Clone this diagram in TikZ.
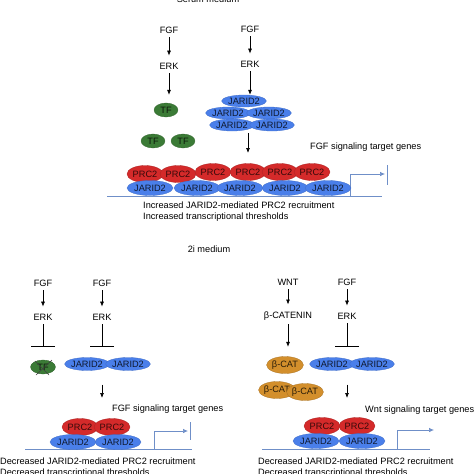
\documentclass[tikz,border=0pt]{standalone}
\usepackage{fontspec}
\setmainfont{Liberation Sans}
\usepackage{tikz}
\usetikzlibrary{arrows.meta, positioning, shapes.geometric}
\usepackage{xcolor}
\definecolor{jaridblue}{HTML}{4A7FEA}
\definecolor{prcred}{HTML}{D42A2A}
\definecolor{tfgreen}{HTML}{3B7B36}
\definecolor{catorange}{HTML}{D38F2C}
\definecolor{dnablue}{HTML}{6F8FC8}

\begin{document}
\begin{tikzpicture}[
  x=1pt, y=-1pt,
  font=\fontsize{9.2}{11}\selectfont,
  blob/.style={ellipse, inner sep=0pt, line width=0.3pt},
  jarid/.style={blob, fill=jaridblue, draw=jaridblue!85!black,
    text=jaridblue!20!black, minimum width=44pt, minimum height=13pt},
  prc/.style={blob, fill=prcred, draw=prcred!80!black,
    text=prcred!25!black, minimum width=36pt, minimum height=17pt},
  tf/.style={blob, fill=tfgreen, draw=tfgreen!80!black,
    text=tfgreen!20!black, minimum width=24pt, minimum height=14pt},
  bcat/.style={blob, fill=catorange, draw=catorange!80!black,
    text=catorange!20!black, minimum width=29pt, minimum height=17pt},
  lbl/.style={inner sep=0pt},
  arr/.style={-{Latex[length=5pt, width=4pt]}, line width=0.7pt,
    shorten <=4pt},
  inh/.style={-{Bar[width=24pt, line width=0.9pt]}, line width=0.7pt,
    shorten <=4pt},
  dna/.style={dnablue, line width=0.8pt},
  prom/.style={dnablue, line width=0.7pt, -{Latex[length=5pt, width=4.5pt]}}
]
  \useasboundingbox (0,0) rectangle (474,474);

  % Serum medium
  \node[lbl] (serum) at (208,-1) {Serum medium};

  \node[lbl] (fgfA) at (169,30) {FGF};
  \node[lbl] (erkA) at (169,66) {ERK};
  \node[tf] (tfA) at (166,110) {TF};
  \node[tf] (tfB) at (153,141) {TF};
  \node[tf] (tfC) at (183,141) {TF};

  \node[lbl] (fgfB) at (250,29) {FGF};
  \node[lbl] (erkB) at (250,64) {ERK};

  % JARID2 stack
  \node[jarid, minimum width=42pt, minimum height=12pt] (jA) at (244,101) {JARID2};
  \foreach \n/\x/\y in {B/228/113, C/269/113, D/232/125, E/272/125} {
    \node[jarid, minimum width=42pt, minimum height=12pt] (j\n) at (\x,\y) {JARID2};
  }

  \draw[arr, shorten >=7pt] (fgfA) -- (erkA);
  \draw[arr, shorten >=8pt] (erkA) -- (erkA |- tfA.north);
  \draw[arr, shorten >=7pt] (fgfB) -- (erkB);
  \draw[arr] (erkB) -- (erkB |- jA.north);

  \coordinate (tgtA) at (248,153);
  \draw[arr, shorten <=2pt] (tgtA |- jE.south) -- (tgtA);

  \node[lbl, anchor=west] (genesA) at (310,147) {FGF signaling target genes};

  % chromatin
  \draw[dna] (107,196) -- (382,196);
  \draw[prom] (350,196) |- (385,174);
  \draw[dna] (387,165) -- (387,185);
  \foreach \i/\x/\y in {1/145/174, 2/178/174, 3/213/172, 4/248/172, 5/280/172, 6/312/172} {
    \node[prc] (prcA\i) at (\x,\y) {PRC2};
  }
  \foreach \i/\x in {1/150, 2/197, 3/240, 4/285, 5/328} {
    \node[jarid, minimum width=46pt, minimum height=15pt] (jrA\i) at (\x,188) {JARID2};
  }

  \node[lbl, anchor=west] (incA) at (143,205) {Increased JARID2-mediated PRC2 recruitment};
  \node[lbl, anchor=west] (incB) at (143,217) {Increased transcriptional thresholds};

  % 2i medium
  \node[lbl] (twoi) at (209,249) {2i medium};

  % left: FGF/ERK only
  \node[lbl] (fgfC) at (43,283) {FGF};
  \node[lbl] (erkC) at (43,317) {ERK};
  \node[tf, minimum width=25pt] (tfX) at (43,367) {TF};
  \draw[black!75, line width=0.6pt] ([shift={(-7,8)}]tfX.center) -- ([shift={(9,-7)}]tfX.center);
  \draw[black!75, line width=0.6pt] ([shift={(-8,-6)}]tfX.center) -- ([shift={(6,8)}]tfX.center);

  \node[lbl] (fgfD) at (102,283) {FGF};
  \node[lbl] (erkD) at (102,317) {ERK};
  \node[jarid, minimum width=42pt] (jF) at (87,364) {JARID2};
  \node[jarid, minimum width=42pt] (jG) at (128,364) {JARID2};

  \draw[arr, shorten >=7pt] (fgfC) -- (erkC);
  \draw[inh, shorten >=13pt] (erkC) -- (erkC |- tfX.north);
  \draw[arr, shorten >=7pt] (fgfD) -- (erkD);
  \draw[inh, shorten >=10.5pt] (erkD) -- (erkD |- jF.north);

  \coordinate (tgtC) at (102,398);
  \draw[arr, shorten <=14pt] (tgtC |- jF.south) -- (tgtC);

  \node[lbl, anchor=west] (genesC) at (112,409) {FGF signaling target genes};

  \draw[dna] (25,449) -- (192,449);
  \draw[prom] (154,449) |- (188,431);
  \draw[dna] (190,422) -- (190,440);
  \foreach \i/\x in {1/80, 2/112} {
    \node[prc] (prcC\i) at (\x,427) {PRC2};
  }
  \foreach \i/\x in {1/73, 2/118} {
    \node[jarid, minimum width=46pt, minimum height=15pt] (jrC\i) at (\x,442) {JARID2};
  }

  \node[lbl, anchor=west] (decA) at (0,461) {Decreased JARID2-mediated PRC2 recruitment};
  \node[lbl, anchor=west] (decB) at (0,473) {Decreased transcriptional thresholds};

  % right: WNT and FGF/ERK
  \node[lbl] (wnt) at (288,282) {WNT};
  \node[lbl] (bcatenin) at (288,316) {β-CATENIN};
  \node[bcat] (bcA) at (285,365) {β-CAT};
  \node[bcat] (bcB) at (277,390) {β-CAT};
  \node[bcat] (bcC) at (305,392) {β-CAT};

  \node[lbl] (fgfE) at (347,282) {FGF};
  \node[lbl] (erkE) at (347,316) {ERK};
  \node[jarid, minimum width=43pt] (jH) at (332,364) {JARID2};
  \node[jarid, minimum width=41pt] (jI) at (372,364) {JARID2};

  \draw[arr, shorten >=7pt] (wnt) -- (bcatenin);
  \draw[arr, shorten >=9.5pt] (bcatenin) -- (bcatenin |- bcA.north);
  \draw[arr, shorten >=7pt] (fgfE) -- (erkE);
  \draw[inh, shorten >=10.5pt] (erkE) -- (erkE |- jH.north);

  \coordinate (tgtE) at (347,398);
  \draw[arr, shorten <=14pt] (tgtE |- jH.south) -- (tgtE);

  \node[lbl, anchor=west] (genesE) at (365,410) {Wnt signaling target genes};

  \draw[dna] (262,449) -- (430,449);
  \draw[prom] (397,449) |- (434,430);
  \foreach \i/\x in {1/322, 2/357} {
    \node[prc] (prcE\i) at (\x,426) {PRC2};
  }
  \foreach \i/\x in {1/316, 2/362} {
    \node[jarid, minimum width=46pt, minimum height=15pt] (jrE\i) at (\x,441) {JARID2};
  }

  \node[lbl, anchor=west] (decC) at (258,461) {Decreased JARID2-mediated PRC2 recruitment};
  \node[lbl, anchor=west] (decD) at (258,473) {Decreased transcriptional thresholds};
\end{tikzpicture}
\end{document}
